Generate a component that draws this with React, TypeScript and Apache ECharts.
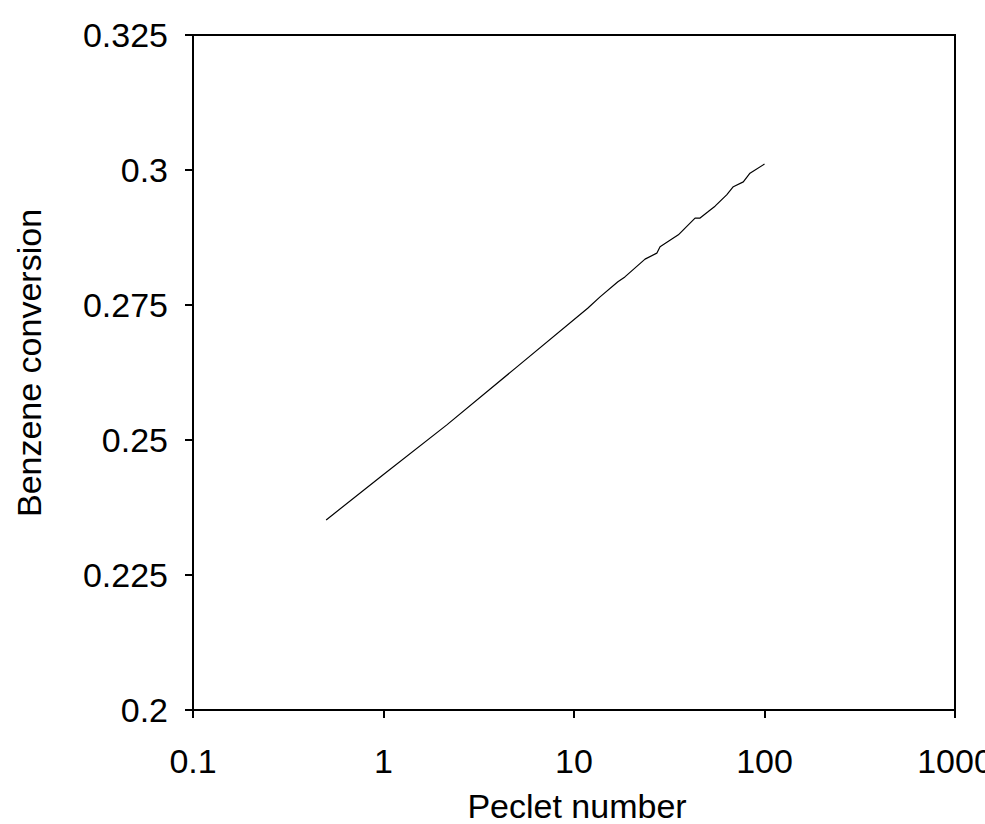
import React, { useEffect, useRef } from "react";
import * as echarts from "echarts";

// Peclet number (x, log scale) and benzene conversion (y)
const pecletValues = [
  0.5, 1, 2.15, 5, 11.8, 13.7, 17.0, 18.5, 23.6, 27.2, 28.3, 35.3, 43.2, 45.9,
  50.7, 55.0, 63.3, 68.6, 77.4, 83.9, 100,
];
const conversionValues = [
  0.2352, 0.2436, 0.2528, 0.2635, 0.2744, 0.2765, 0.2793, 0.2802, 0.2835,
  0.2846, 0.2858, 0.288, 0.2911, 0.2911, 0.2923, 0.2933, 0.2954, 0.2969,
  0.2978, 0.2994, 0.3011,
];
const xAxisTitle = "Peclet number";
const yAxisTitle = "Benzene conversion";
const xMin = 0.1;
const xMax = 1000;
const yMin = 0.2;
const yMax = 0.325;
const yInterval = 0.025;

const FONT = '"Liberation Sans", Arial, Helvetica, sans-serif';

export default function App() {
  const ref = useRef<HTMLDivElement>(null);

  useEffect(() => {
    document.body.style.margin = "0";
    if (!ref.current) return;
    const chart = echarts.init(ref.current, undefined, { renderer: "svg" });
    const data = pecletValues.map((p, i) => [p, conversionValues[i]]);
    chart.setOption({
      animation: false,
      backgroundColor: "#ffffff",
      grid: {
        left: 193,
        top: 35,
        width: 762,
        height: 675,
        outerBoundsMode: "none",
        containLabel: false,
        show: true,
        borderColor: "#000",
        borderWidth: 2,
        backgroundColor: "transparent",
      },
      xAxis: {
        type: "log",
        logBase: 10,
        min: xMin,
        max: xMax,
        axisLine: { show: true, lineStyle: { color: "#000", width: 2 } },
        axisTick: { show: true, inside: false, length: 8, lineStyle: { color: "#000", width: 2 } },
        minorTick: { show: false },
        splitLine: { show: false },
        axisLabel: {
          color: "#000",
          fontFamily: FONT,
          fontSize: 34,
          margin: 34,
          showMinLabel: true,
          showMaxLabel: true,
          hideOverlap: false,
          formatter: (v: number) => String(Number(v.toPrecision(6))),
        },
      },
      yAxis: {
        type: "value",
        min: yMin,
        max: yMax,
        interval: yInterval,
        axisLine: { show: true, lineStyle: { color: "#000", width: 2 } },
        axisTick: { show: true, inside: false, length: 8, lineStyle: { color: "#000", width: 2 } },
        splitLine: { show: false },
        axisLabel: {
          color: "#000",
          fontFamily: FONT,
          fontSize: 34,
          margin: 25,
          formatter: (v: number) => String(Number(v.toFixed(3))),
        },
      },
      graphic: [
        {
          type: "text",
          x: 577,
          y: 806,
          style: {
            text: xAxisTitle,
            font: `34px ${FONT}`,
            fill: "#000",
            align: "center",
            verticalAlign: "middle",
          },
        },
        {
          type: "text",
          x: 29,
          y: 363,
          rotation: Math.PI / 2,
          style: {
            text: yAxisTitle,
            font: `34px ${FONT}`,
            fill: "#000",
            align: "center",
            verticalAlign: "middle",
          },
        },
      ],
      series: [
        {
          type: "line",
          data,
          showSymbol: false,
          symbol: "none",
          lineStyle: { color: "#000", width: 1.2 },
          silent: true,
        },
      ],
    });
    return () => chart.dispose();
  }, []);

  return (
    <div
      ref={ref}
      style={{ position: "fixed", left: 0, top: 0, width: 985, height: 824, overflow: "hidden", background: "#fff" }}
    />
  );
}
